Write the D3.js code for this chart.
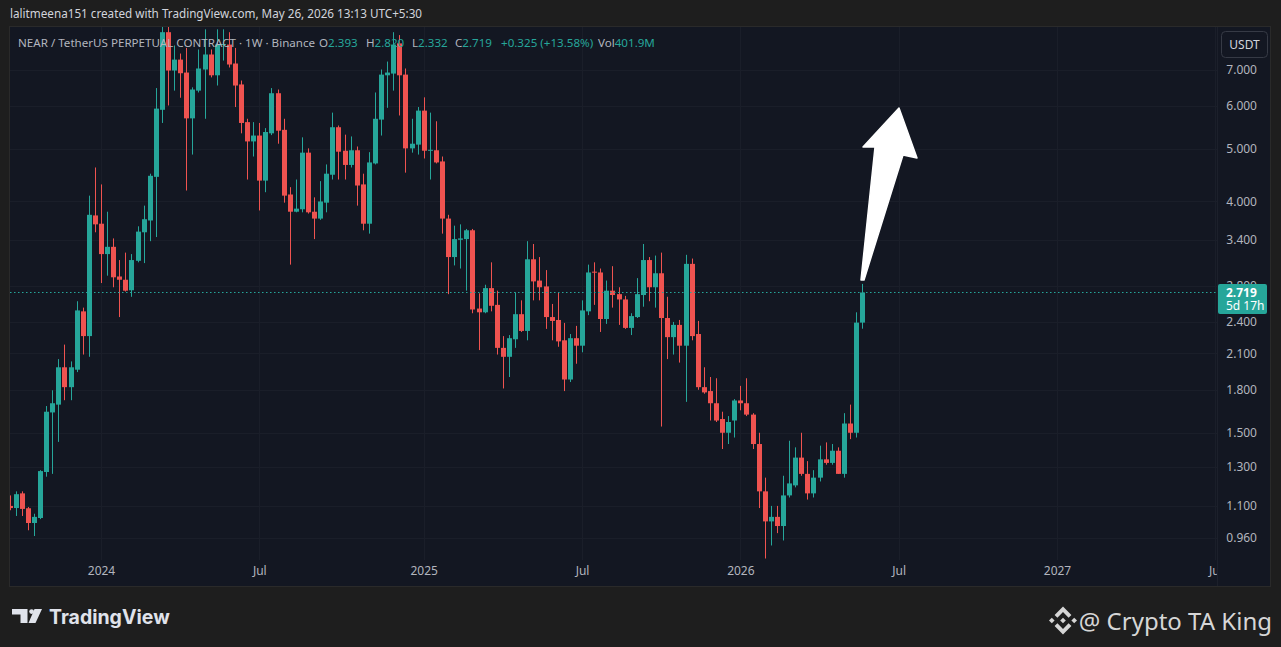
<!DOCTYPE html>
<html>
<head>
<meta charset="utf-8">
<script src="https://cdn.jsdelivr.net/npm/d3@7"></script>
<style>
  html, body { margin: 0; padding: 0; background: #1e1e1e; overflow: hidden; }
  svg { display: block; font-family: "Noto Sans", sans-serif; }
</style>
</head>
<body>
<svg id="chart" width="1281" height="647"></svg>
<script>
// NEAR/USDT weekly candles, first bar is the week of 2023-09-18
var firstWeek = '2023-09-18';

var opens = [
  1.10, 1.09, 1.16, 1.089, 1.023, 1.045, 1.27, 1.635, 1.69, 1.98,
  1.82, 1.96, 2.51, 2.26, 3.77, 3.64, 3.20, 3.30, 2.91, 2.87,
  2.745, 3.11, 3.51, 3.69, 4.44, 5.90, 8.2, 6.97, 7.30, 6.91,
  5.69, 6.40, 7.00, 7.46, 6.83, 7.78, 7.78, 7.18, 6.57, 5.60,
  5.16, 5.29, 4.37, 5.34, 6.33, 5.42, 4.12, 3.83, 3.87, 4.92,
  3.83, 3.72, 3.98, 4.48, 5.48, 4.96, 4.67, 4.97, 4.30, 3.64,
  4.70, 5.66, 6.83, 6.88, 7.82, 6.85, 5.01, 5.09, 5.88, 4.96,
  4.97, 4.74, 3.72, 3.16, 3.40, 3.41, 3.54, 2.54, 2.50, 2.77,
  2.58, 2.15, 2.07, 2.23, 2.48, 2.31, 3.13, 2.86, 2.79, 2.45,
  2.42, 2.22, 1.88, 2.24, 2.17, 2.51, 2.97, 2.96, 2.43, 2.74,
  2.70, 2.64, 2.34, 2.45, 2.69, 3.12, 2.78, 2.95, 2.44, 2.25,
  2.37, 2.17, 3.07, 2.28, 1.82, 1.79, 1.70, 1.59, 1.50, 1.58,
  1.72, 1.70, 1.62, 1.43, 1.17, 1.03, 1.05, 1.01, 1.15, 1.20,
  1.35, 1.26, 1.16, 1.24, 1.34, 1.32, 1.39, 1.26, 1.56, 1.50,
  2.393
];
var highs = [
  1.15, 1.17, 1.17, 1.095, 1.064, 1.28, 1.68, 1.796, 2.05, 2.18,
  2.03, 2.62, 2.55, 4.10, 4.62, 4.30, 3.83, 3.42, 3.12, 3.22,
  3.20, 3.60, 3.93, 4.50, 6.47, 8.9, 8.6, 7.75, 7.49, 7.67,
  6.49, 7.62, 8.3, 7.62, 8.3, 8.3, 8.2, 7.67, 6.68, 5.68,
  5.60, 5.58, 5.46, 6.47, 6.43, 5.68, 4.25, 4.39, 5.25, 5.01,
  4.07, 4.36, 4.68, 5.83, 5.52, 5.31, 5.27, 5.05, 4.50, 4.93,
  6.35, 7.00, 7.24, 8.2, 8.1, 7.03, 5.68, 5.97, 6.22, 5.83,
  5.62, 4.84, 3.78, 3.61, 3.63, 3.56, 3.56, 2.71, 2.81, 3.09,
  2.74, 2.26, 2.27, 2.72, 2.63, 3.38, 3.34, 3.16, 2.99, 2.59,
  2.72, 2.39, 2.28, 2.36, 2.63, 3.06, 3.09, 3.01, 2.86, 3.04,
  2.78, 2.68, 2.49, 2.89, 3.34, 3.16, 3.18, 3.22, 2.67, 2.40,
  2.42, 3.19, 3.14, 2.41, 1.98, 1.90, 1.89, 1.64, 1.61, 1.73,
  1.83, 1.89, 1.63, 1.50, 1.24, 1.10, 1.10, 1.25, 1.45, 1.41,
  1.50, 1.33, 1.28, 1.42, 1.44, 1.43, 1.41, 1.63, 1.69, 2.50,
  2.820
];
var lows = [
  1.08, 1.054, 1.054, 0.992, 0.968, 1.04, 1.245, 1.26, 1.443, 1.722,
  1.722, 1.94, 2.09, 2.07, 3.51, 2.83, 2.92, 2.78, 2.45, 2.73,
  2.67, 3.09, 3.08, 3.38, 3.44, 5.58, 6.01, 6.40, 6.21, 4.19,
  4.88, 6.35, 5.68, 6.77, 6.54, 7.27, 7.06, 5.97, 5.34, 4.39,
  4.84, 3.85, 4.16, 5.30, 5.11, 3.98, 3.06, 3.82, 3.82, 3.80,
  3.41, 3.70, 3.82, 4.39, 4.39, 4.39, 4.62, 3.93, 3.54, 3.49,
  4.68, 5.29, 5.95, 6.40, 5.76, 4.52, 4.92, 4.88, 4.80, 4.39,
  4.70, 3.49, 2.70, 3.05, 3.01, 2.74, 2.49, 2.13, 2.49, 2.51,
  2.09, 1.81, 1.90, 2.15, 2.30, 2.22, 2.63, 2.63, 2.33, 2.22,
  2.16, 1.79, 1.86, 2.01, 2.11, 2.47, 2.58, 2.30, 2.38, 2.55,
  2.37, 2.33, 2.27, 2.44, 2.56, 2.62, 2.55, 1.54, 2.05, 2.09,
  2.02, 1.71, 2.22, 1.80, 1.77, 1.58, 1.57, 1.40, 1.43, 1.47,
  1.65, 1.61, 1.40, 1.09, 0.88, 0.93, 0.98, 0.95, 1.14, 1.19,
  1.25, 1.13, 1.14, 1.22, 1.31, 1.31, 1.26, 1.24, 1.46, 1.47,
  2.332
];
var closes = [
  1.09, 1.156, 1.086, 1.023, 1.05, 1.275, 1.64, 1.70, 1.98, 1.82,
  1.98, 2.52, 2.26, 3.78, 3.63, 3.20, 3.30, 2.90, 2.87, 2.74,
  3.12, 3.52, 3.71, 4.46, 5.93, 8.2, 6.97, 7.30, 6.89, 5.69,
  6.43, 7.03, 7.46, 6.83, 7.78, 7.80, 7.15, 6.54, 5.58, 5.16,
  5.29, 4.37, 5.37, 6.33, 5.40, 4.10, 3.83, 3.88, 4.92, 3.82,
  3.72, 4.00, 4.50, 5.48, 4.94, 4.67, 4.97, 4.28, 3.64, 4.72,
  5.68, 6.85, 6.91, 7.78, 6.83, 5.01, 5.11, 5.88, 4.96, 4.98,
  4.72, 3.72, 3.16, 3.41, 3.42, 3.54, 2.53, 2.50, 2.77, 2.57,
  2.15, 2.07, 2.24, 2.48, 2.31, 3.13, 2.85, 2.78, 2.45, 2.41,
  2.21, 1.88, 2.24, 2.17, 2.52, 2.96, 2.96, 2.43, 2.74, 2.69,
  2.64, 2.34, 2.46, 2.70, 3.12, 2.78, 2.95, 2.44, 2.25, 2.37,
  2.17, 3.07, 2.26, 1.82, 1.78, 1.70, 1.58, 1.50, 1.57, 1.72,
  1.70, 1.62, 1.43, 1.17, 1.03, 1.05, 1.01, 1.15, 1.21, 1.35,
  1.26, 1.16, 1.24, 1.34, 1.32, 1.39, 1.26, 1.56, 1.50, 2.393,
  2.719
];

var priceTicks = [7, 6, 5, 4, 3.4, 2.8, 2.4, 2.1, 1.8, 1.5, 1.3, 1.1, 0.96];
var timeTicks = ['2024-01-01', '2024-07-01', '2025-01-06', '2025-07-07', '2026-01-05', '2026-07-06', '2027-01-04', '2027-07-05'];
var timeLabels = ['2024', 'Jul', '2025', 'Jul', '2026', 'Jul', '2027', 'Jul'];
var lastPrice = 2.719;
var countdown = '5d 17h';

var UP = '#26a69a', DOWN = '#ef5350';
var AXIS_TEXT = '#b2b5be';

var parse = d3.utcParse('%Y-%m-%d');
var svg = d3.select('#chart');

// panel geometry
var panel = { left: 10, top: 27, right: 1270, bottom: 586 };
var plot = { left: 10, top: 27, right: 1217, bottom: 560 };

var x = d3.scaleUtc()
  .domain([parse('2024-01-01'), parse('2027-01-04')])
  .range([101, 1057]);
var y = d3.scaleLog()
  .domain([7, 0.96])
  .range([69.5, 538]);

var start = parse(firstWeek);
var bars = closes.map(function (c, i) {
  return { date: d3.utcMonday.offset(start, i), o: opens[i], h: highs[i], l: lows[i], c: c };
});

// frame
svg.append('rect').attr('width', 1281).attr('height', 647).attr('fill', '#1e1e1e');
svg.append('rect')
  .attr('x', panel.left - 0.5).attr('y', panel.top - 0.5)
  .attr('width', panel.right - panel.left + 1).attr('height', panel.bottom - panel.top + 1)
  .attr('fill', '#131722').attr('stroke', '#2a2a2a');

var defs = svg.append('defs');
defs.append('clipPath').attr('id', 'plot-clip').append('rect')
  .attr('x', plot.left).attr('y', plot.top)
  .attr('width', plot.right - plot.left).attr('height', plot.bottom - plot.top);
defs.append('clipPath').attr('id', 'xaxis-clip').append('rect')
  .attr('x', plot.left).attr('y', plot.bottom)
  .attr('width', plot.right - plot.left).attr('height', panel.bottom - plot.bottom);

// grid
var grid = svg.append('g').attr('clip-path', 'url(#plot-clip)');
grid.selectAll('line.h').data(priceTicks).enter().append('line')
  .attr('x1', plot.left).attr('x2', plot.right)
  .attr('y1', function (d) { return Math.round(y(d)) + 0.5; })
  .attr('y2', function (d) { return Math.round(y(d)) + 0.5; })
  .attr('stroke', '#1a1e29');
grid.selectAll('line.v').data(timeTicks).enter().append('line')
  .attr('x1', function (d) { return Math.round(x(parse(d))) + 0.5; })
  .attr('x2', function (d) { return Math.round(x(parse(d))) + 0.5; })
  .attr('y1', plot.top).attr('y2', plot.bottom)
  .attr('stroke', '#1a1e29');

// price axis separator
svg.append('line')
  .attr('x1', plot.right + 0.5).attr('x2', plot.right + 0.5)
  .attr('y1', panel.top).attr('y2', panel.bottom)
  .attr('stroke', '#1c202b');

// candles
var candles = svg.append('g').attr('clip-path', 'url(#plot-clip)');
var bar = candles.selectAll('g').data(bars).enter().append('g');
bar.append('line')
  .attr('x1', function (d) { return Math.round(x(d.date)) + 0.5; })
  .attr('x2', function (d) { return Math.round(x(d.date)) + 0.5; })
  .attr('y1', function (d) { return y(d.h); })
  .attr('y2', function (d) { return y(d.l); })
  .attr('stroke', function (d) { return d.c >= d.o ? UP : DOWN; });
bar.append('rect')
  .attr('x', function (d) { return Math.round(x(d.date)) - 2; })
  .attr('width', 5)
  .attr('y', function (d) { return y(Math.max(d.o, d.c)); })
  .attr('height', function (d) { return Math.max(1, Math.abs(y(d.o) - y(d.c))); })
  .attr('fill', function (d) { return d.c >= d.o ? UP : DOWN; });

// last price line
svg.append('line')
  .attr('x1', plot.left).attr('x2', plot.right)
  .attr('y1', Math.round(y(lastPrice)) + 0.5).attr('y2', Math.round(y(lastPrice)) + 0.5)
  .attr('stroke', UP).attr('stroke-width', 1).attr('stroke-dasharray', '1.5,2.5');

// price axis
var yAxis = svg.append('g')
  .attr('transform', 'translate(1257,0)')
  .call(d3.axisLeft(y).tickValues(priceTicks).tickFormat(d3.format('.3f')).tickSize(0).tickPadding(0));
yAxis.select('.domain').remove();
yAxis.selectAll('text')
  .attr('fill', AXIS_TEXT).attr('font-size', 12).attr('font-family', '"Noto Sans", sans-serif');

// time axis (clipped at the price scale, the last label shows cut)
var xAxis = svg.append('g')
  .attr('clip-path', 'url(#xaxis-clip)')
  .append('g')
  .attr('transform', 'translate(0,' + 566 + ')')
  .call(d3.axisBottom(x)
    .tickValues(timeTicks.map(parse))
    .tickFormat(function (d, i) { return timeLabels[i]; })
    .tickSize(0).tickPadding(0));
xAxis.select('.domain').remove();
xAxis.selectAll('text')
  .attr('fill', AXIS_TEXT).attr('font-size', 12).attr('font-family', '"Noto Sans", sans-serif');

// last price badge
var badge = svg.append('g');
badge.append('rect')
  .attr('x', 1218).attr('y', Math.round(y(lastPrice)) - 8)
  .attr('width', 49).attr('height', 30).attr('rx', 2)
  .attr('fill', UP);
badge.append('text')
  .attr('x', 1226).attr('y', Math.round(y(lastPrice)) + 5)
  .attr('fill', '#ffffff').attr('font-size', 12).attr('font-weight', 'bold')
  .text(d3.format('.3f')(lastPrice));
badge.append('text')
  .attr('x', 1226).attr('y', Math.round(y(lastPrice)) + 18)
  .attr('fill', '#ffffff').attr('font-size', 12)
  .text(countdown);

// currency button
svg.append('rect')
  .attr('x', 1221.5).attr('y', 31.5).attr('width', 46).attr('height', 26).attr('rx', 4)
  .attr('fill', '#131722').attr('stroke', '#363a45');
svg.append('text')
  .attr('x', 1244.5).attr('y', 48.5).attr('text-anchor', 'middle')
  .attr('fill', '#d1d4dc').attr('font-size', 12)
  .text('USDT');

// legend
var legend = svg.append('text').attr('y', 46.5).attr('font-size', 11.6).attr('fill', AXIS_TEXT);
legend.append('tspan').attr('x', 18).text('NEAR / TetherUS PERPETUAL CONTRACT · 1W · Binance');
var ohlc = [['O', '2.393', 319], ['H', '2.820', 366], ['L', '2.332', 412], ['C', '2.719', 455]];
ohlc.forEach(function (p) {
  legend.append('tspan').attr('x', p[2]).text(p[0]);
  legend.append('tspan').attr('fill', UP).text(p[1]);
});
legend.append('tspan').attr('x', 501).attr('fill', UP).text('+0.325 (+13.58%)');
legend.append('tspan').attr('x', 598).text('Vol');
legend.append('tspan').attr('fill', UP).text('401.9M');

// header line
svg.append('text')
  .attr('x', 10).attr('y', 18)
  .attr('fill', '#d1d4dc').attr('font-size', 11.7)
  .text('lalitmeena151 created with TradingView.com, May 26, 2026 13:13 UTC+5:30');

// drawn arrow
svg.append('path')
  .attr('d', d3.line()([[861, 280], [875, 147], [863, 147], [899, 108], [917, 158], [903, 155], [864, 280]]) + 'Z')
  .attr('fill', '#ffffff').attr('stroke', '#ffffff').attr('stroke-width', 1.5).attr('stroke-linejoin', 'round');

// TradingView logo
var tv = svg.append('g').attr('fill', '#e0e3eb');
tv.append('path').attr('d', 'M12,609 H27.5 V623 H20.5 V614.5 H12 Z');
tv.append('circle').attr('cx', 31.6).attr('cy', 611.6).attr('r', 2.4);
tv.append('path').attr('d', 'M34.5,609 H42 L35.5,623 H28.5 Z');
tv.append('text')
  .attr('x', 49).attr('y', 624)
  .attr('font-family', 'Inter, sans-serif').attr('font-size', 19.5).attr('font-weight', 'bold')
  .text('TradingView');

// credit with binance mark
var bn = svg.append('g').attr('fill', '#d6d6d6').attr('transform', 'translate(1063,620.5) scale(14)');
bn.append('path').attr('d', 'M-0.6,-0.4 L0,-1 L0.6,-0.4 L0.4,-0.2 L0,-0.6 L-0.4,-0.2 Z');
bn.append('path').attr('d', 'M-0.6,0.4 L0,1 L0.6,0.4 L0.4,0.2 L0,0.6 L-0.4,0.2 Z');
bn.append('path').attr('d', 'M0,-0.2 L0.2,0 L0,0.2 L-0.2,0 Z');
bn.append('path').attr('d', 'M-0.8,-0.2 L-0.6,0 L-0.8,0.2 L-1,0 Z');
bn.append('path').attr('d', 'M0.8,-0.2 L1,0 L0.8,0.2 L0.6,0 Z');
svg.append('text')
  .attr('x', 1272).attr('y', 630).attr('text-anchor', 'end')
  .attr('fill', '#d6d6d6').attr('font-size', 24)
  .text('@ Crypto TA King');
</script>
</body>
</html>
